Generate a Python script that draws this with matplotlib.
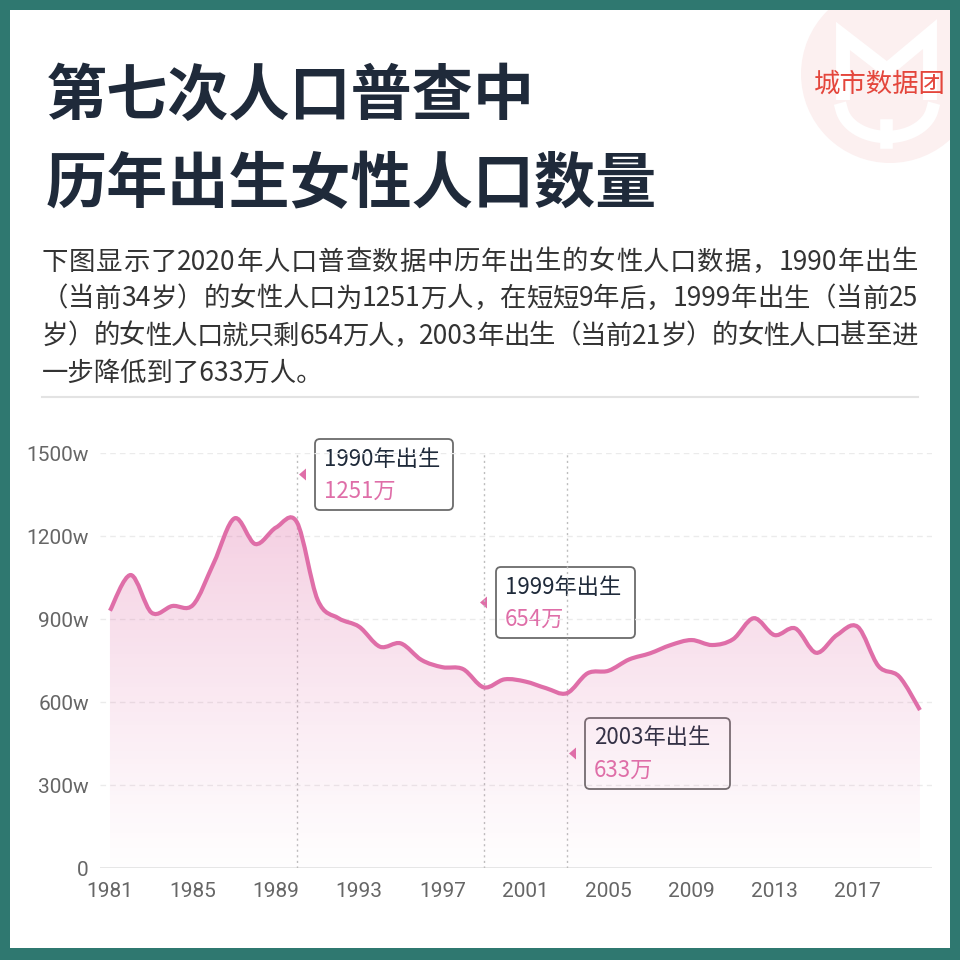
import re
import matplotlib
matplotlib.use("Agg")
import matplotlib.pyplot as plt
import numpy as np
from matplotlib.path import Path
from matplotlib.patches import PathPatch, Rectangle, FancyBboxPatch, Circle, Polygon

plt.rcParams['font.family'] = ['Noto Sans CJK SC', 'DejaVu Sans']

# ── data ──────────────────────────────────────────────────────────────────────
years = list(range(1981, 2021))
female_births = [931, 1060, 924, 948, 952, 1104, 1265, 1172, 1232, 1251,
                 970, 904, 873, 801, 813, 753, 727, 720, 654, 683,
                 675, 651, 633, 705, 714, 755, 777, 807, 825, 807,
                 828, 904, 843, 867, 779, 843, 873, 731, 693, 572]
y_ticks = [0, 300, 600, 900, 1200, 1500]
y_labels = ["0", "300w", "600w", "900w", "1200w", "1500w"]
x_ticks = [1981, 1985, 1989, 1993, 1997, 2001, 2005, 2009, 2013, 2017]
callout_years = [1990, 1999, 2003]

title_lines = ["第七次人口普查中", "历年出生女性人口数量"]
subtitle_lines = [
    "下图显示了2020年人口普查数据中历年出生的女性人口数据，1990年出生",
    "（当前34岁）的女性人口为1251万人，在短短9年后，1999年出生（当前25",
    "岁）的女性人口就只剩654万人，2003年出生（当前21岁）的女性人口甚至进",
    "一步降低到了633万人。",
]

TEAL = "#2f7870"
PINK = "#df6ea8"
NAVY = "#1f2a3a"
W = H = 960


def smooth_path(xs, ys, closed_to=None):
    """Catmull-Rom style bezier path through the points."""
    pts = np.column_stack([xs, ys]).astype(float)
    n = len(pts)
    verts = [pts[0]]
    codes = [Path.MOVETO]
    k = 0.5 / 3.0
    for i in range(n - 1):
        p0 = pts[max(i - 1, 0)]
        p1 = pts[i]
        p2 = pts[i + 1]
        p3 = pts[min(i + 2, n - 1)]
        c1 = p1 + (p2 - p0) * k
        c2 = p2 - (p3 - p1) * k
        verts += [c1, c2, p2]
        codes += [Path.CURVE4] * 3
    if closed_to is not None:
        verts += [(pts[-1][0], closed_to), (pts[0][0], closed_to), pts[0]]
        codes += [Path.LINETO, Path.LINETO, Path.CLOSEPOLY]
    return Path(verts, codes)


def justified_line(ax, fig, text, x0, x1, y, **kw):
    """Place a line of text so that it spans x0..x1 (pixel coords of ax)."""
    tokens = re.findall(r"[0-9A-Za-z]+|.", text)
    r = fig.canvas.get_renderer()
    arts, widths = [], []
    for t in tokens:
        a = ax.text(0, y, t, ha="left", va="center", **kw)
        widths.append(a.get_window_extent(r).width)
        arts.append(a)
    gap = (x1 - x0 - sum(widths)) / (len(tokens) - 1)
    x = x0
    for a, w in zip(arts, widths):
        a.set_x(x)
        x += w + gap


fig = plt.figure(figsize=(9.6, 9.6), dpi=100)
fig.patch.set_facecolor(TEAL)

# overlay in pixel coordinates for the page layout
bg = fig.add_axes([0, 0, 1, 1])
bg.set_xlim(0, W)
bg.set_ylim(H, 0)
bg.axis("off")
bg.add_patch(Rectangle((10, 10), 940, 938, facecolor="white", edgecolor="none"))

# logo
logo = Circle((890, 74), 89, facecolor="#fcf0f0", edgecolor="none")
bg.add_patch(logo)
logo_clip = Rectangle((10, 10), 940, 938, transform=bg.transData)
logo.set_clip_path(logo_clip)
bg.plot([843, 843, 887, 930, 930], [100, 36, 70, 34, 100], color="white",
        lw=10, solid_joinstyle="miter", solid_capstyle="butt")
th = np.linspace(np.pi * 0.05, np.pi * 0.95, 40)
bg.plot(887 + 46 * np.cos(th), 104 + 33 * np.sin(th), color="white", lw=9)
bg.plot([886, 886], [125, 142], color="white", lw=9)
bg.text(880, 84, "城市数据团", fontsize=19, color="#e4463c", ha="center", va="center")

# title + subtitle
for i, line in enumerate(title_lines):
    bg.text(46, 97 + i * 88, line, fontsize=44, fontweight="bold", color=NAVY,
            ha="left", va="center")
for i, line in enumerate(subtitle_lines):
    if i < len(subtitle_lines) - 1:
        justified_line(bg, fig, line, 42, 918, 262 + i * 37,
                       fontsize=19, color="#333333")
    else:
        bg.text(42, 262 + i * 37, line, fontsize=19, color="#333333",
                ha="left", va="center")
bg.plot([42, 918], [397, 397], color="#e3e3e3", lw=1.5)

# ── chart ────────────────────────────────────────────────────────────────────
ax = fig.add_axes([100 / W, 1 - 868.3 / H, 832 / W, 415 / H])
ax.set_facecolor("none")
for s in ax.spines.values():
    s.set_visible(False)
ax.set_yticks(y_ticks)
ax.set_yticklabels(y_labels)
ax.set_xticks(x_ticks)
ax.set_xticklabels([str(x) for x in x_ticks])
ax.tick_params(length=0, labelsize=15, labelcolor="#666666", pad=8)
for lab in ax.get_xticklabels() + ax.get_yticklabels():
    lab.set_family(["Roboto", "DejaVu Sans"])
ax.tick_params(axis="x", pad=10)
for yt in y_ticks[1:]:
    ax.axhline(yt, color="#ebebeb", lw=1, ls=(0, (4, 3)), zorder=0)
ax.axhline(0, color="#e3e3e3", lw=1.2, zorder=1)

for cy in callout_years:
    ax.plot([cy, cy], [0, 1500], color="#bdbdbd", lw=1, ls=(0, (1.5, 2.5)), zorder=1)

# gradient area
area = PathPatch(smooth_path(years, female_births, closed_to=0),
                 facecolor="none", edgecolor="none", transform=ax.transData)
ax.add_patch(area)
grad = np.linspace(0, 1, 256).reshape(-1, 1)
rgba = np.zeros((256, 1, 4))
rgba[..., 0] = 0.88
rgba[..., 1] = 0.44
rgba[..., 2] = 0.66
rgba[..., 3] = 0.01 + 0.32 * grad[::-1] ** 1.1
im = ax.imshow(rgba, extent=[1980.5, 2020.6, 0, max(female_births)], origin="upper",
               aspect="auto", zorder=2, interpolation="bilinear")
im.set_clip_path(area)

line = PathPatch(smooth_path(years, female_births), facecolor="none",
                 edgecolor=PINK, lw=3, transform=ax.transData, zorder=3)
ax.add_patch(line)
ax.set_xlim(1980.52, 2020.58)
ax.set_ylim(0, 1500)

# callout boxes (page pixel positions)
boxes = [(315, 439, 138, 71), (496, 567, 139, 71), (585, 718, 145, 71)]
for cy, (bx, by, bw, bh) in zip(callout_years, boxes):
    val = female_births[years.index(cy)]
    bg.add_patch(FancyBboxPatch((bx, by), bw, bh,
                                boxstyle="round,pad=0,rounding_size=5",
                                facecolor="white", edgecolor="#6b6b6b", lw=1.3, zorder=5))
    ty = by + bh / 2
    bg.add_patch(Polygon([(bx - 9, ty - 6), (bx - 9, ty + 6), (bx - 16, ty)],
                         closed=True, facecolor=PINK, edgecolor="none", zorder=5))
    bg.text(bx + 9, by + 20, f"{cy}年出生", fontsize=16, color=NAVY,
            ha="left", va="center", zorder=6)
    bg.text(bx + 9, by + 52, f"{val}万", fontsize=16, color=PINK,
            ha="left", va="center", zorder=6)

fig.savefig("out.png", dpi=100, facecolor=TEAL)
